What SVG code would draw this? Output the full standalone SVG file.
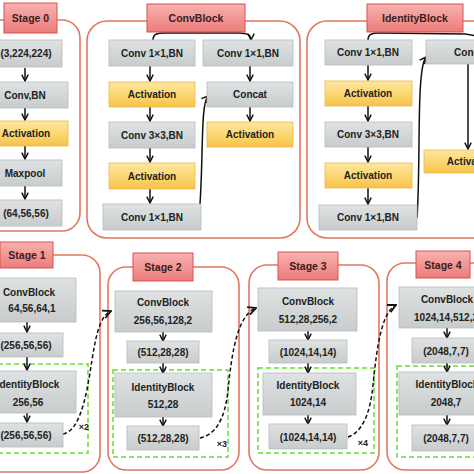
<svg xmlns="http://www.w3.org/2000/svg" width="474" height="474" viewBox="0 0 474 474">
<defs>
<linearGradient id="gGray" x1="0" y1="0" x2="0" y2="1"><stop offset="0" stop-color="#dfe2e2"/><stop offset="1" stop-color="#c8cccc"/></linearGradient>
<linearGradient id="gYel" x1="0" y1="0" x2="0" y2="1"><stop offset="0" stop-color="#fde6a0"/><stop offset="0.5" stop-color="#fcd873"/><stop offset="1" stop-color="#f6c24a"/></linearGradient>
<linearGradient id="gPink" x1="0" y1="0" x2="0" y2="1"><stop offset="0" stop-color="#f7b2b0"/><stop offset="1" stop-color="#ec7c7a"/></linearGradient>
<marker id="ah" viewBox="0 0 10 10" refX="9" refY="5" markerWidth="8" markerHeight="8" markerUnits="userSpaceOnUse" orient="auto"><path d="M1,1 L9,5 L1,9" fill="none" stroke="#111" stroke-width="1.8"/></marker>
<marker id="ahB" viewBox="0 0 10 10" refX="9" refY="5" markerWidth="10" markerHeight="10" markerUnits="userSpaceOnUse" orient="auto"><path d="M1,1 L9,5 L1,9" fill="none" stroke="#111" stroke-width="1.8"/></marker>
</defs>
<style>
.g{fill:url(#gGray);stroke:#b6bbbb;stroke-width:0.8}
.y{fill:url(#gYel);stroke:#e9b94a;stroke-width:0.8}
.p{fill:url(#gPink);stroke:#d9534f;stroke-width:1}
.panel{fill:none;stroke:#e2775c;stroke-width:1.6}
.grn{fill:none;stroke:#66dd33;stroke-width:1.5;stroke-dasharray:5,3}
text{font-family:"Liberation Sans",Arial,sans-serif;font-weight:bold;font-size:10px;fill:#222;text-anchor:middle}
.st{font-size:10.5px;fill:#3a2020}
.mul{font-size:9px;font-weight:bold}
.ar{fill:none;stroke:#111;stroke-width:1.5;marker-end:url(#ah)}
.dash{fill:none;stroke:#111;stroke-width:1.5;stroke-dasharray:4,2.5;marker-end:url(#ahB)}
</style>
<rect width="474" height="474" fill="#fff"/>

<g id="panels">
<rect class="panel" x="-20" y="20" width="100" height="211" rx="18"/>
<rect class="panel" x="87" y="21" width="213" height="217" rx="20"/>
<rect class="panel" x="307" y="21" width="220" height="217" rx="20"/>
<rect class="panel" x="-20" y="255" width="120" height="217" rx="18"/>
<rect class="panel" x="108" y="267" width="131" height="203" rx="18"/>
<rect class="panel" x="249" y="265" width="130" height="205" rx="18"/>
<rect class="panel" x="387" y="263" width="120" height="207" rx="18"/>
<rect class="grn" x="-10" y="364" width="98" height="89"/>
<rect class="grn" x="113" y="370" width="115" height="87"/>
<rect class="grn" x="258" y="368" width="116" height="85"/>
<rect class="grn" x="397" y="366" width="103" height="91"/>
</g>

<g id="connectors">
<path class="ar" d="M25,68 V81"/>
<path class="ar" d="M25,108 V120"/>
<path class="ar" d="M25,146 V159"/>
<path class="ar" d="M25,186 V199"/>
<path class="ar" d="M150,66 V81"/>
<path class="ar" d="M150,107 V121"/>
<path class="ar" d="M150,148 V162"/>
<path class="ar" d="M150,189 V203"/>
<path class="ar" d="M250,66 V81"/>
<path class="ar" d="M250,107 V121"/>
<path class="ar" d="M153,40 C153,34 157,33 165,33 L238,33 C248,33 251,35 251,40"/>
<path class="ar" d="M199,218 C204,160 200,105 208,96"/>
<path class="ar" d="M368,65 V80"/>
<path class="ar" d="M368,106 V121"/>
<path class="ar" d="M368,147 V162"/>
<path class="ar" d="M368,188 V204"/>
<path fill="none" stroke="#111" stroke-width="1.5" d="M368,40 C368,34 372,33 380,33 L465,34 C472,35 478,36 482,38"/>
<path class="ar" d="M417,218 C421,160 416,70 426,57"/>
<path class="ar" d="M468,64 V149"/>
<path class="ar" d="M27,322 V332"/>
<path class="ar" d="M27,357 V370"/>
<path class="ar" d="M27,413 V422"/>
<path class="ar" d="M163,332 V341"/>
<path class="ar" d="M163,363 V373"/>
<path class="ar" d="M163,417 V426"/>
<path class="ar" d="M308,331 V340"/>
<path class="ar" d="M308,363 V373"/>
<path class="ar" d="M308,415 V424"/>
<path class="ar" d="M447,328 V338"/>
<path class="ar" d="M447,363 V372"/>
<path class="ar" d="M447,415 V425"/>
<path class="dash" d="M63,434 C82,431 88,385 92,360 C96,335 100,316 111,311"/>
<path class="dash" d="M200,438 C215,435 225,420 228,390 C232,350 238,315 256,308"/>
<path class="dash" d="M348,437 C362,432 370,415 373,385 C377,345 382,312 396,305"/>
</g>

<g id="stage0">
<rect class="p" x="4" y="3" width="53" height="30"/><text class="st" x="30.5" y="22">Stage 0</text>
<g id="s0n1"><rect class="g" x="-10" y="40" width="72" height="27"/><text x="26" y="57">(3,224,224)</text></g>
<g id="s0n2"><rect class="g" x="-10" y="82" width="78" height="26"/><text x="25" y="99">Conv,BN</text></g>
<g id="s0n3"><rect class="y" x="-10" y="121" width="78" height="25"/><text x="26" y="137">Activation</text></g>
<g id="s0n4"><rect class="g" x="-10" y="160" width="72" height="26"/><text x="25" y="177">Maxpool</text></g>
<g id="s0n5"><rect class="g" x="-10" y="200" width="72" height="26"/><text x="26" y="217">(64,56,56)</text></g>
</g>

<g id="convblock">
<rect class="p" x="147" y="4" width="98" height="28"/><text class="st" x="196" y="22">ConvBlock</text>
<g id="cb1"><rect class="g" x="109" y="40" width="86" height="26"/><text x="152" y="57">Conv 1×1,BN</text></g>
<g id="cb2"><rect class="y" x="109" y="82" width="86" height="25"/><text x="152" y="98">Activation</text></g>
<g id="cb3"><rect class="g" x="109" y="122" width="86" height="26"/><text x="152" y="139">Conv 3×3,BN</text></g>
<g id="cb4"><rect class="y" x="109" y="163" width="86" height="26"/><text x="152" y="180">Activation</text></g>
<g id="cb5"><rect class="g" x="103" y="204" width="98" height="26"/><text x="152" y="221">Conv 1×1,BN</text></g>
<g id="cb6"><rect class="g" x="203" y="40" width="90" height="26"/><text x="248" y="57">Conv 1×1,BN</text></g>
<g id="cb7"><rect class="g" x="207" y="82" width="86" height="25"/><text x="250" y="98">Concat</text></g>
<g id="cb8"><rect class="y" x="207" y="122" width="86" height="25"/><text x="250" y="138">Activation</text></g>
</g>

<g id="identityblock">
<rect class="p" x="367" y="4" width="96" height="28"/><text class="st" x="415" y="22">IdentityBlock</text>
<g id="ib1"><rect class="g" x="325" y="40" width="87" height="25"/><text x="368" y="56">Conv 1×1,BN</text></g>
<g id="ib2"><rect class="y" x="325" y="81" width="87" height="25"/><text x="368" y="97">Activation</text></g>
<g id="ib3"><rect class="g" x="325" y="122" width="87" height="25"/><text x="368" y="138">Conv 3×3,BN</text></g>
<g id="ib4"><rect class="y" x="325" y="163" width="87" height="25"/><text x="368" y="179">Activation</text></g>
<g id="ib5"><rect class="g" x="319" y="205" width="98" height="25"/><text x="368" y="221">Conv 1×1,BN</text></g>
<g id="ib6"><rect class="g" x="426" y="40" width="90" height="24"/><text x="471" y="56">Concat</text></g>
<g id="ib7"><rect class="y" x="424" y="150" width="94" height="23"/><text x="471" y="165">Activation</text></g>
</g>

<g id="stage1">
<rect class="p" x="0" y="242" width="53" height="26"/><text class="st" x="27" y="259">Stage 1</text>
<g id="s1n1"><rect class="g" x="-10" y="278" width="86" height="44"/><text x="29" y="296">ConvBlock</text><text x="32" y="312">64,56,64,1</text></g>
<g id="s1n2"><rect class="g" x="-10" y="333" width="73" height="24"/><text x="26" y="349">(256,56,56)</text></g>
<g id="s1n3"><rect class="g" x="-10" y="371" width="86" height="42"/><text x="28" y="388">IdentityBlock</text><text x="28" y="406">256,56</text></g>
<g id="s1n4"><rect class="g" x="-10" y="423" width="73" height="24"/><text x="26" y="439">(256,56,56)</text></g>
<text class="mul" x="84" y="430">×2</text>
</g>

<g id="stage2">
<rect class="p" x="133" y="253" width="60" height="28"/><text class="st" x="163" y="271">Stage 2</text>
<g id="s2n1"><rect class="g" x="115" y="291" width="97" height="41"/><text x="163" y="306">ConvBlock</text><text x="163" y="324">256,56,128,2</text></g>
<g id="s2n2"><rect class="g" x="127" y="341" width="72" height="22"/><text x="163" y="356">(512,28,28)</text></g>
<g id="s2n3"><rect class="g" x="115" y="373" width="97" height="44"/><text x="163" y="391">IdentityBlock</text><text x="163" y="408">512,28</text></g>
<g id="s2n4"><rect class="g" x="127" y="426" width="72" height="24"/><text x="163" y="442">(512,28,28)</text></g>
<text class="mul" x="222" y="447">×3</text>
</g>

<g id="stage3">
<rect class="p" x="278" y="252" width="60" height="28"/><text class="st" x="308" y="270">Stage 3</text>
<g id="s3n1"><rect class="g" x="258" y="288" width="99" height="43"/><text x="308" y="305">ConvBlock</text><text x="308" y="323">512,28,256,2</text></g>
<g id="s3n2"><rect class="g" x="269" y="340" width="78" height="23"/><text x="308" y="356">(1024,14,14)</text></g>
<g id="s3n3"><rect class="g" x="263" y="373" width="93" height="42"/><text x="308" y="389">IdentityBlock</text><text x="308" y="406">1024,14</text></g>
<g id="s3n4"><rect class="g" x="269" y="424" width="78" height="25"/><text x="308" y="441">(1024,14,14)</text></g>
<text class="mul" x="363" y="446">×4</text>
</g>

<g id="stage4">
<rect class="p" x="416" y="251" width="54" height="27"/><text class="st" x="443" y="269">Stage 4</text>
<g id="s4n1"><rect class="g" x="399" y="287" width="94" height="41"/><text x="447" y="303">ConvBlock</text><text x="446" y="321">1024,14,512,2</text></g>
<g id="s4n2"><rect class="g" x="412" y="338" width="68" height="25"/><text x="446" y="355">(2048,7,7)</text></g>
<g id="s4n3"><rect class="g" x="399" y="372" width="94" height="43"/><text x="447" y="388">IdentityBlock</text><text x="446" y="406">2048,7</text></g>
<g id="s4n4"><rect class="g" x="412" y="425" width="68" height="26"/><text x="446" y="442">(2048,7,7)</text></g>
</g>
</svg>
